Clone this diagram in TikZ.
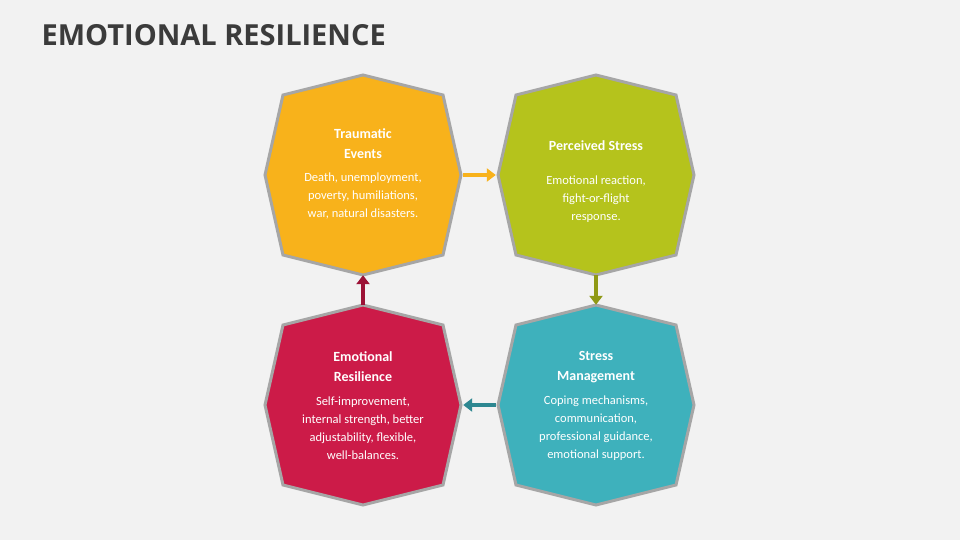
\documentclass[tikz,border=0pt]{standalone}
\usepackage{fontspec}
\setmainfont{Carlito}
\newfontfamily\titlefont{Open Sans}
\usetikzlibrary{arrows.meta,calc}
\definecolor{bg}{HTML}{F2F2F2}
\definecolor{cA}{HTML}{F8B21B}\definecolor{dA}{HTML}{C88E00}
\definecolor{cB}{HTML}{B5C31C}\definecolor{dB}{HTML}{8B9415}
\definecolor{cC}{HTML}{3EB1BC}\definecolor{dC}{HTML}{2D8791}
\definecolor{cD}{HTML}{CC1B48}\definecolor{dD}{HTML}{9C1236}
\definecolor{ttl}{HTML}{3B3B3B}
\tikzset{
  hub/.style={circle,minimum size=200pt,inner sep=0pt},
  flow/.style={line width=3.5pt,-{Triangle[length=9pt,width=13pt]}},
  head/.style={font=\bfseries\fontsize{14}{20}\selectfont,text=white,align=center},
  body/.style={font=\fontsize{12.5}{18}\selectfont,text=white,align=center}
}
\newcommand\tile[3]{%
  \fill[#3,rounded corners=14pt] ($(#1)+(-83,-82)$) rectangle ($(#1)+(83,83)$);
  \begin{scope}
    \clip[rounded corners=14pt] ($(#1)+(-83,-82)$) rectangle ($(#1)+(83,83)$);
    \fill[#3!75!black,shift={(#1)},scale=1.07] (0,-100)--(-80,-80)--(-98,0)--(-80,80)--(0,100)--(80,80)--(98,0)--(80,-80)--cycle;
  \end{scope}
  \filldraw[fill=#2,draw=gray!70,line width=3pt,line join=miter,shift={(#1)}] (0,-100)--(-80,-80)--(-98,0)--(-80,80)--(0,100)--(80,80)--(98,0)--(80,-80)--cycle;
}
\begin{document}
\begin{tikzpicture}[x=1pt,y=-1pt]
\fill[bg] (0,0) rectangle (960,540);
\useasboundingbox (0,0) rectangle (960,540);
\node[anchor=west,font=\titlefont\bfseries\fontsize{29}{32}\selectfont,text=ttl] (title) at (38,35) {EMOTIONAL RESILIENCE};
\coordinate (pA) at (363,175);\coordinate (pB) at (596,175);
\coordinate (pC) at (596,405);\coordinate (pD) at (363,405);
\tile{pA}{cA}{dA}\tile{pB}{cB}{dB}\tile{pC}{cC}{dC}\tile{pD}{cD}{dD}
\node[hub] (a) at (pA) {};\node[hub] (b) at (pB) {};
\node[hub] (c) at (pC) {};\node[hub] (d) at (pD) {};
\draw[flow,cA] (a.east) -- (b.west);
\draw[flow,dB!90!cB] (b.south) -- (c.north);
\draw[flow,dC] (c.west) -- (d.east);
\draw[flow,dD] (d.north) -- (a.south);
\node[head] (ha) at (363,144) {Traumatic\\Events};
\node[body] (ba) at (363,196) {Death, unemployment,\\poverty, humiliations,\\war, natural disasters.};
\node[head] (hb) at (596,146) {Perceived Stress};
\node[body] (bb) at (596,199) {Emotional reaction,\\fight-or-flight\\response.};
\node[head] (hc) at (596,367) {Stress\\Management};
\node[body] (bc) at (596,428) {Coping mechanisms,\\communication,\\professional guidance,\\emotional support.};
\node[head] (hd) at (363,367) {Emotional\\Resilience};
\node[body] (bd) at (363,428) {Self-improvement,\\internal strength, better\\adjustability, flexible,\\well-balances.};
\end{tikzpicture}
\end{document}
